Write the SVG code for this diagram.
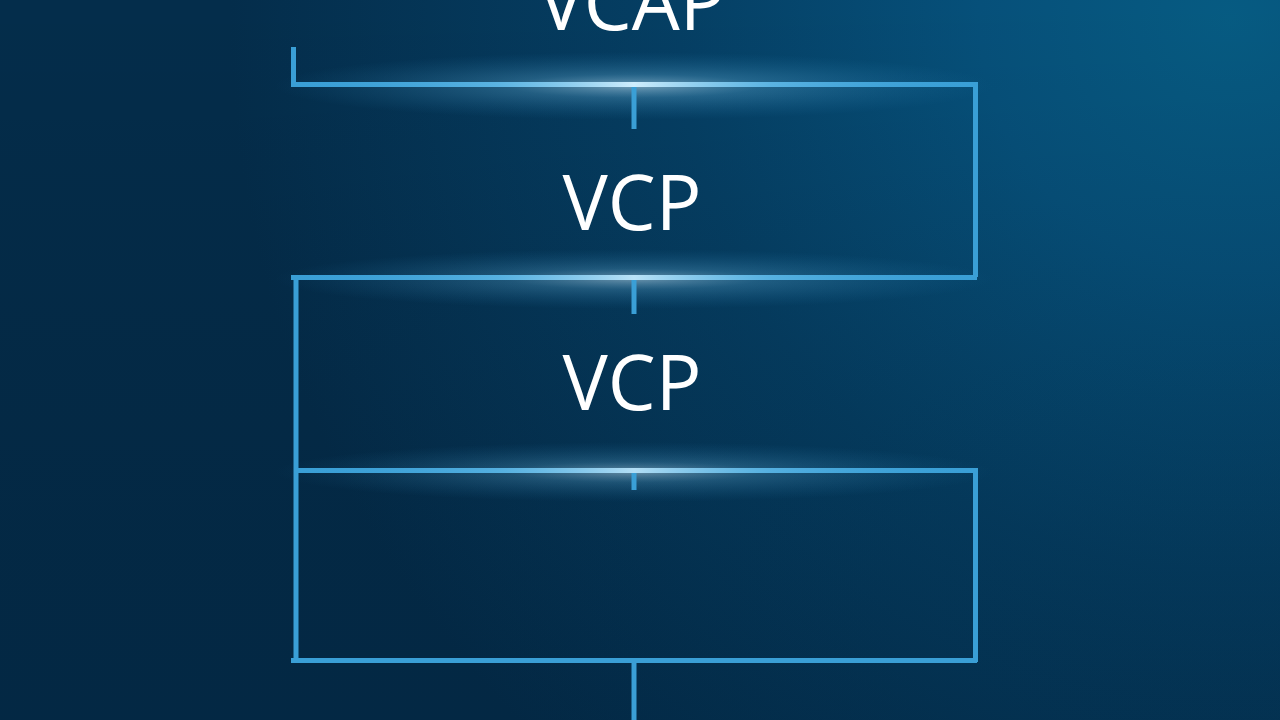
<svg xmlns="http://www.w3.org/2000/svg" width="1280" height="720" viewBox="0 0 1280 720">
<defs>
<radialGradient id="bg" cx="1230" cy="20" r="1000" gradientUnits="userSpaceOnUse">
<stop offset="0" stop-color="#065b82"/>
<stop offset="0.25" stop-color="#06507a"/>
<stop offset="0.55" stop-color="#053f64"/>
<stop offset="1" stop-color="#042d4b"/>
</radialGradient>
<radialGradient id="glow" cx="0.5" cy="0.5" r="0.5">
<stop offset="0" stop-color="#cfeeff" stop-opacity="0.55"/>
<stop offset="0.35" stop-color="#6fc0ea" stop-opacity="0.28"/>
<stop offset="1" stop-color="#2b8cc4" stop-opacity="0"/>
</radialGradient>
<linearGradient id="hl" x1="291" y1="0" x2="977" y2="0" gradientUnits="userSpaceOnUse">
<stop offset="0" stop-color="#3a9fd6" stop-opacity="0"/>
<stop offset="0.3" stop-color="#7cc8ee" stop-opacity="0.5"/>
<stop offset="0.5" stop-color="#d8f2ff" stop-opacity="0.95"/>
<stop offset="0.7" stop-color="#7cc8ee" stop-opacity="0.5"/>
<stop offset="1" stop-color="#3a9fd6" stop-opacity="0"/>
</linearGradient>
<linearGradient id="vign" x1="0" y1="0" x2="0" y2="1">
<stop offset="0" stop-color="#000" stop-opacity="0"/>
<stop offset="1" stop-color="#001428" stop-opacity="0.2"/>
</linearGradient>
</defs>
<style>
.ln{stroke:#3a9fd6;stroke-width:5;fill:none;stroke-linecap:butt;stroke-linejoin:miter}
.hl{stroke:url(#hl);stroke-width:5;fill:none}
.lb{font-family:"Open Sans","Noto Sans",sans-serif;font-size:76px;fill:#ffffff;text-anchor:middle}
</style>
<rect width="1280" height="720" fill="url(#bg)"/>
<rect width="1280" height="720" fill="url(#vign)"/>
<g id="glows">
<ellipse cx="634" cy="86" rx="360" ry="34" fill="url(#glow)"/>
<ellipse cx="634" cy="279" rx="360" ry="30" fill="url(#glow)" opacity="0.9"/>
<ellipse cx="634" cy="472" rx="360" ry="30" fill="url(#glow)" opacity="0.85"/>
</g>
<g id="connectors">
<path class="ln" d="M293.5 47 V84.5 H975.5 V277"/>
<path class="ln" d="M634 84 V129"/>
<path class="ln" d="M291 277.5 H977"/>
<path class="ln" d="M296 277 V662"/>
<path class="ln" d="M634 277 V314"/>
<path class="ln" d="M294 470.5 H975.5 V662"/>
<path class="ln" d="M634 470 V490"/>
<path class="ln" d="M291 660.5 H977"/>
<path class="ln" d="M634 660 V720"/>
<path class="hl" d="M291 84.5 H977"/>
<path class="hl" d="M291 277.5 H977" opacity="0.85"/>
<path class="hl" d="M291 470.5 H977" opacity="0.8"/>
</g>
<g id="node-vcap"><text class="lb" x="632" y="30">VCAP</text></g>
<g id="node-vcp1"><text class="lb" x="632" y="230">VCP</text></g>
<g id="node-vcp2"><text class="lb" x="632" y="410">VCP</text></g>
</svg>
